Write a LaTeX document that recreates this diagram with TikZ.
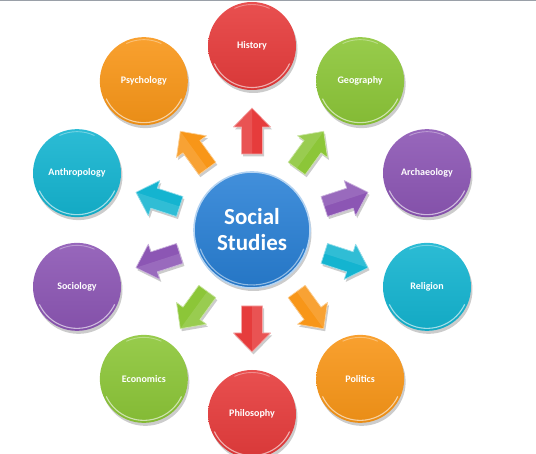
\documentclass[tikz,border=0pt]{standalone}
\usepackage{fontspec}
\setmainfont{Carlito}
\usetikzlibrary{calc}
\definecolor{cred}{RGB}{230,60,60}
\definecolor{cgreen}{RGB}{140,198,56}
\definecolor{cpurple}{RGB}{140,86,180}
\definecolor{ccyan}{RGB}{20,180,208}
\definecolor{corange}{RGB}{248,150,24}
\definecolor{cblue}{RGB}{40,128,214}
\definecolor{topline}{RGB}{154,160,168}
\begin{document}
\begin{tikzpicture}[x=1pt,y=1pt,
  topic/.style={circle, minimum size=88pt, inner sep=0pt, text=white,
    font=\bfseries\fontsize{10}{11}\selectfont},
  hub/.style={circle, minimum size=116pt, inner sep=0pt, text=white, align=center,
    font=\bfseries\fontsize{23}{26}\selectfont},
  shadowfill/.style={fill=black, opacity=0.2}
]
\useasboundingbox (0,0) rectangle (536,-454);
\fill[topline] (0,0) rectangle (536,-1.4);
\coordinate (c) at (252,-230);

% centre
\fill[shadowfill] ($(c)+(1.5,-3)$) circle (58);
\node[hub, top color=cblue!88!white, bottom color=cblue!92!black, draw=cblue!35!white, line width=1.6pt] (hub) at (c) {Social\\Studies};
\draw[white, opacity=0.5, line width=1.1pt] ($(hub.center)+(200:55)$) arc (200:340:55);

\foreach \ang/\col/\nm/\lab in {90/cred/hist/History, 54/cgreen/geo/Geography,
  18/cpurple/arch/Archaeology, -18/ccyan/rel/Religion, -54/corange/pol/Politics,
  -90/cred/phil/Philosophy, -126/cgreen/eco/Economics, -162/cpurple/soc/Sociology,
  162/ccyan/anth/Anthropology, 126/corange/psy/Psychology} {
  % circle
  \fill[shadowfill] ($(c)+(\ang:184)+(1.5,-3)$) circle (44);
  \node[topic, top color=\col!90!white, bottom color=\col!94!black] (\nm) at ($(c)+(\ang:184)$) {\lab};
  \draw[white, opacity=0.6, line width=1.1pt] ($(\nm.center)+(205:41.5)$) arc (205:335:41.5);
  \draw[white, opacity=0.35, line width=0.9pt] ($(\nm.center)+(65:41.5)$) arc (65:115:41.5);
  % arrow shadow
  \begin{scope}[shift={($(c)+(1.5,-2.5)$)}, rotate=\ang]
    \fill[shadowfill] (76,-10.5) -- (103,-10.5) -- (103,-18.5) -- (122,0) -- (103,18.5) -- (103,10.5) -- (76,10.5) -- cycle;
  \end{scope}
  % arrow
  \begin{scope}[shift={(c)}, rotate=\ang]
    \fill[\col] (76,-10.5) -- (103,-10.5) -- (103,-18.5) -- (122,0) -- (103,18.5) -- (103,10.5) -- (76,10.5) -- cycle;
    \fill[white, opacity=0.12] (76,0) -- (76,10.5) -- (103,10.5) -- (103,18.5) -- (122,0) -- cycle;
    \draw[\col!45!white, line width=0.7pt, line join=round] (76,-10.5) -- (103,-10.5) -- (103,-18.5) -- (122,0) -- (103,18.5) -- (103,10.5) -- (76,10.5) -- cycle;
  \end{scope}
}
\end{tikzpicture}
\end{document}
